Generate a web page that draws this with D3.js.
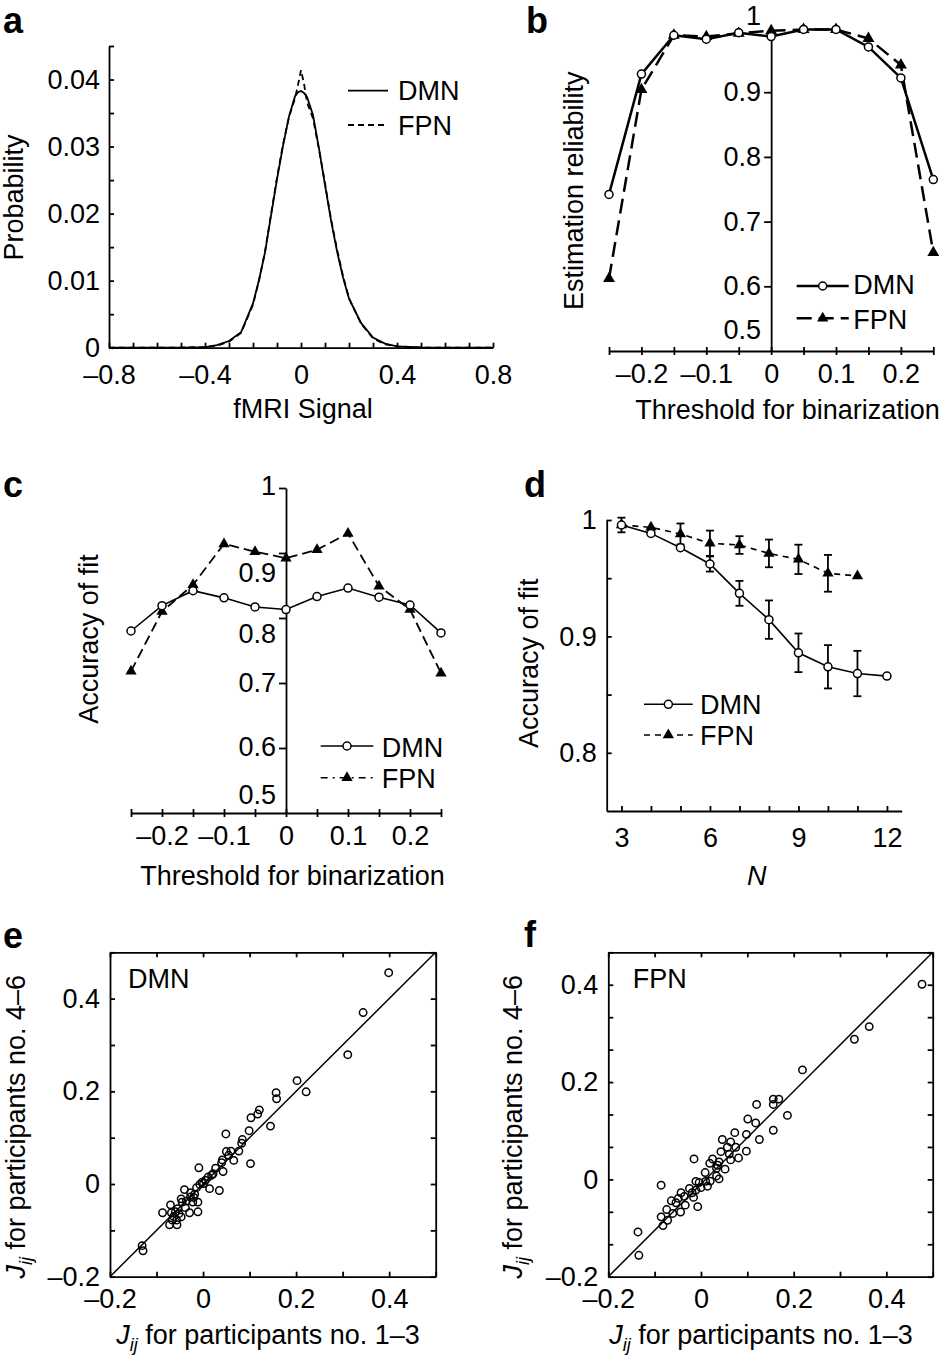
<!DOCTYPE html>
<html>
<head>
<meta charset="utf-8">
<script src="https://cdn.jsdelivr.net/npm/d3@7"></script>
<style>
	html, body { margin: 0; padding: 0; background: #fff; }
	svg text { font-family: "Liberation Sans", Arial, Helvetica, sans-serif; font-size: 27px; fill: #000; }
	.letter { font-weight: bold; font-size: 36px; }
</style>
</head>
<body>
<script>
// ---- panel a : signal distributions ----
var aX = [-0.8, -0.6, -0.5, -0.4, -0.35, -0.3, -0.25, -0.2, -0.175, -0.15, -0.125, -0.1, -0.075, -0.05, -0.025, -0.0125, 0,
	0.0125, 0.025, 0.05, 0.075, 0.1, 0.125, 0.15, 0.175, 0.2, 0.25, 0.3, 0.35, 0.4, 0.5, 0.6, 0.8];
var aDMN = [0, 0, 0.00002, 0.0001, 0.0004, 0.0010, 0.0023, 0.0066, 0.0101, 0.0142, 0.0197, 0.0251, 0.0301, 0.0345, 0.0375, 0.0381, 0.0383,
	0.0380, 0.0374, 0.0347, 0.0297, 0.0243, 0.0190, 0.0144, 0.0105, 0.0073, 0.0037, 0.0015, 0.0006, 0.0002, 0.00003, 0, 0];
var aFPN = [0, 0, 0.00002, 0.0001, 0.0003, 0.0009, 0.0022, 0.0064, 0.0100, 0.0143, 0.0199, 0.0254, 0.0303, 0.0344, 0.0372, 0.0392, 0.0414,
	0.0394, 0.0366, 0.0342, 0.0296, 0.0245, 0.0192, 0.0147, 0.0107, 0.0074, 0.0036, 0.0014, 0.0005, 0.0002, 0.00002, 0, 0];
var aXLabels = [-0.8, -0.4, 0, 0.4, 0.8];
var aYLabels = [0, 0.01, 0.02, 0.03, 0.04];

// ---- panels b, c : threshold sweeps ----
var thr = [-0.25, -0.2, -0.15, -0.1, -0.05, 0, 0.05, 0.1, 0.15, 0.2, 0.25];
var bDMN = [0.742, 0.928, 0.988, 0.982, 0.992, 0.986, 0.997, 0.997, 0.970, 0.922, 0.765];
var bFPN = [0.612, 0.904, 0.988, 0.986, 0.991, 0.995, 0.997, 0.997, 0.983, 0.942, 0.652];
var cDMN = [0.780, 0.819, 0.842, 0.831, 0.817, 0.813, 0.833, 0.846, 0.832, 0.820, 0.777];
var cFPN = [0.718, 0.810, 0.851, 0.914, 0.902, 0.892, 0.905, 0.930, 0.849, 0.813, 0.715];
var thrLabels = [-0.2, -0.1, 0, 0.1, 0.2];
var accLabels = [0.5, 0.6, 0.7, 0.8, 0.9, 1];

// ---- panel d : accuracy vs N ----
var dN = [3, 4, 5, 6, 7, 8, 9, 10, 11, 12];
var dDMN = [0.9957, 0.9885, 0.9762, 0.9622, 0.937, 0.9144, 0.8859, 0.8739, 0.8681, 0.8659];
var dDMNErr = [0.0063, 0, 0, 0.0065, 0.0107, 0.0165, 0.0166, 0.0186, 0.0195, 0];
var dNF = [3, 4, 5, 6, 7, 8, 9, 10, 11];
var dFPN = [0.9957, 0.9937, 0.988, 0.980, 0.9785, 0.9713, 0.9662, 0.9542, 0.9519];
var dFPNErr = [0, 0, 0.009, 0.0109, 0.0076, 0.0119, 0.0126, 0.0158, 0];
var dXLabels = [3, 6, 9, 12];
var dYLabels = [0.8, 0.9, 1];

// ---- panels e, f : Jij scatter ----
var eX = [0.399, 0.344, 0.311, 0.202, 0.2215, 0.157, 0.158, 0.121, 0.1175, 0.103, 0.145, 0.099, 0.049, 0.0845, 0.083, 0.050,
	0.060, 0.077, 0.055, 0.066, 0.0415, 0.040, 0.102, -0.009, 0.027, 0.043, 0.0215, 0.011, 0.005, -0.002, -0.007, 0.014,
	0.035, -0.040, -0.027, -0.018, -0.027, -0.047, -0.036, -0.022, -0.011, -0.045, -0.070, -0.038, -0.011, -0.029, -0.087,
	-0.068, -0.0595, -0.0545, -0.063, -0.047, -0.057, -0.072, -0.056, -0.131, -0.129, -0.066, -0.020, -0.052, 0.001, 0.0185, -0.014];
var eY = [0.456, 0.370, 0.279, 0.223, 0.199, 0.197, 0.184, 0.160, 0.151, 0.143, 0.125, 0.115, 0.108, 0.096, 0.088, 0.070,
	0.071, 0.071, 0.062, 0.051, 0.052, 0.046, 0.044, 0.035, 0.034, 0.027, 0.022, 0.015, 0.008, 0.004, -0.001, -0.010,
	-0.014, -0.012, -0.019, -0.022, -0.028, -0.032, -0.037, -0.039, -0.039, -0.039, -0.045, -0.051, -0.060, -0.062, -0.062,
	-0.062, -0.060, -0.053, -0.070, -0.071, -0.078, -0.088, -0.088, -0.133, -0.144, -0.078, -0.029, -0.064, 0.001, 0.019, -0.008];
var fX = [0.477, 0.363, 0.331, 0.219, 0.156, 0.168, 0.156, 0.120, 0.1865, 0.101, 0.118, 0.156, 0.073, 0.098, 0.046, 0.126,
	0.064, 0.057, 0.075, 0.043, 0.098, 0.061, 0.081, -0.015, 0.025, 0.064, 0.019, 0.039, 0.036, 0.0335, 0.052, 0.009,
	0.0335, 0.039, 0.020, 0.010, -0.086, -0.011, 0, -0.025, -0.011, -0.043, -0.019, -0.016, -0.036, -0.049, -0.064,
	-0.054, -0.034, -0.007, -0.074, -0.061, -0.044, -0.086, -0.072, -0.082, -0.136, -0.134, -0.004, 0.014];
var fY = [0.401, 0.314, 0.288, 0.225, 0.165, 0.165, 0.154, 0.154, 0.1315, 0.124, 0.116, 0.101, 0.096, 0.0925, 0.082, 0.082,
	0.077, 0.066, 0.066, 0.057, 0.058, 0.052, 0.044, 0.042, 0.042, 0.040, 0.033, 0.036, 0.029, 0.023, 0.021, 0.014,
	0.007, 0.001, -0.0035, -0.004, -0.012, -0.004, -0.017, -0.0185, -0.022, -0.0275, -0.0275, -0.037, -0.035, -0.039, -0.044,
	-0.048, -0.053, -0.056, -0.062, -0.070, -0.067, -0.077, -0.084, -0.095, -0.108, -0.156, -0.0065, -0.014];
var jLabels = [-0.2, 0, 0.2, 0.4];

var svg = d3.select("body").append("svg")
	.attr("width", 946)
	.attr("height", 1361);

function fmt(v) {
	if (Math.abs(v) < 1e-9) return "0";
	return (v < 0 ? "\u2013" : "") + d3.format("~g")(+Math.abs(v).toFixed(4));
}
function labelIf(list) {
	return function(v) { return list.some(function(u) { return Math.abs(u - v) < 1e-6; }) ? fmt(v) : ""; };
}
function styleAxis(g) {
	g.attr("font-size", null).attr("font-family", null);
	g.selectAll(".tick text").attr("fill", "#000");
	g.selectAll("line, path").attr("stroke", "#000").attr("stroke-width", 1.8);
}
function addAxis(axis, tx, ty) {
	return svg.append("g").attr("transform", "translate(" + tx + "," + ty + ")").call(axis).call(styleAxis);
}
function plotLine(xs, ys, sx, sy, width, dash) {
	svg.append("path")
		.datum(d3.zip(xs, ys))
		.attr("d", d3.line().x(function(d) { return sx(d[0]); }).y(function(d) { return sy(d[1]); }))
		.attr("fill", "none")
		.attr("stroke", "#000")
		.attr("stroke-width", width)
		.attr("stroke-dasharray", dash);
}
function circles(xs, ys, sx, sy) {
	svg.append("g").selectAll("circle").data(d3.zip(xs, ys)).join("circle")
		.attr("cx", function(d) { return sx(d[0]); })
		.attr("cy", function(d) { return sy(d[1]); })
		.attr("r", 4)
		.attr("fill", "#fff").attr("stroke", "#000").attr("stroke-width", 1.5);
}
function triangles(xs, ys, sx, sy, size) {
	svg.append("g").selectAll("path").data(d3.zip(xs, ys)).join("path")
		.attr("d", d3.symbol(d3.symbolTriangle, size))
		.attr("transform", function(d) { return "translate(" + sx(d[0]) + "," + sy(d[1]) + ")"; })
		.attr("fill", "#000");
}
function legendRow(x1, x2, y, width, dash, marker, label, textX, baseline) {
	svg.append("line").attr("x1", x1).attr("x2", x2).attr("y1", y).attr("y2", y)
		.attr("stroke", "#000").attr("stroke-width", width).attr("stroke-dasharray", dash);
	var mx = (x1 + x2) / 2;
	if (marker === "circle") {
		svg.append("circle").attr("cx", mx).attr("cy", y).attr("r", 4)
			.attr("fill", "#fff").attr("stroke", "#000").attr("stroke-width", 1.5);
	} else if (marker === "triangle") {
		svg.append("path").attr("d", d3.symbol(d3.symbolTriangle, 55))
			.attr("transform", "translate(" + mx + "," + y + ")");
	}
	svg.append("text").attr("x", textX).attr("y", baseline).text(label);
}
function yTitle(x, y, label) {
	return svg.append("text").attr("transform", "translate(" + x + "," + y + ") rotate(-90)")
		.attr("text-anchor", "middle").text(label);
}
function xTitle(x, y, label) {
	return svg.append("text").attr("x", x).attr("y", y).attr("text-anchor", "middle").text(label);
}
function jTitle(t, range) {
	t.text(null);
	t.append("tspan").attr("font-style", "italic").text("J");
	t.append("tspan").attr("font-style", "italic").style("font-size", "18px").attr("dy", 7).text("ij");
	t.append("tspan").attr("dy", -7).text(" for participants no. " + range);
}
function letter(x, y, s) {
	svg.append("text").attr("class", "letter").attr("x", x).attr("y", y).text(s);
}

//////// PANEL A ////////
var xA = d3.scaleLinear().domain([-0.8, 0.8]).range([109, 493]);
var yA = d3.scaleLinear().domain([0, 0.045]).range([347.7, 46]);
addAxis(d3.axisBottom(xA).tickValues(d3.range(-8, 9).map(function(i) { return i / 10; }))
	.tickSize(-5).tickSizeOuter(0).tickPadding(17).tickFormat(labelIf(aXLabels)), 0, 347.7);
addAxis(d3.axisLeft(yA).tickValues(d3.range(0, 10).map(function(i) { return i * 0.005; }))
	.tickSize(-5).tickSizeOuter(0).tickPadding(9).tickFormat(labelIf(aYLabels)), 109, 0);
plotLine(aX, aFPN, xA, yA, 1.8, "6,4");
plotLine(aX, aDMN, xA, yA, 1.8, null);
legendRow(348, 388, 90.7, 1.8, null, null, "DMN", 398, 100);
legendRow(348, 388, 125, 1.8, "6,4", null, "FPN", 398, 135);
yTitle(23, 197.5, "Probability");
xTitle(303, 418, "fMRI Signal");

//////// PANEL B ////////
var xB = d3.scaleLinear().domain([-0.25, 0.25]).range([609, 933.3]);
var yB = d3.scaleLinear().domain([0.5, 1]).range([351, 27.5]);
var gbx = addAxis(d3.axisBottom(xB).tickValues(d3.range(-5, 6).map(function(i) { return i * 0.05; }))
	.tickSize(4).tickSizeOuter(0).tickPadding(9).tickFormat(labelIf(thrLabels)), 0, yB(0.5));
gbx.selectAll(".tick line").attr("y1", -4);
var gby = addAxis(d3.axisLeft(yB).tickValues(accLabels).tickSize(7).tickSizeOuter(0).tickPadding(3).tickFormat(fmt), xB(0), 0);
gby.selectAll(".tick").each(function(d) {
	var t = d3.select(this);
	if (d === 1 || d === 0.5) t.select("line").remove();
	if (d === 1) t.select("text").attr("y", -12);
	if (d === 0.5) t.select("text").attr("y", -21);
});
plotLine(thr, bFPN, xB, yB, 2.5, "15,7");
plotLine(thr, bDMN, xB, yB, 2.5, null);
triangles(thr, bFPN, xB, yB, 62);
circles(thr, bDMN, xB, yB);
legendRow(796.7, 848.7, 286, 2.5, null, "circle", "DMN", 853.3, 293.5);
legendRow(796.7, 848.7, 318.3, 2.5, "15,7", "triangle", "FPN", 853.3, 328.5);
yTitle(583, 190.7, "Estimation reliability");
xTitle(787.5, 419, "Threshold for binarization");

//////// PANEL C ////////
var xC = d3.scaleLinear().domain([-0.25, 0.25]).range([131, 441]);
var yC = d3.scaleLinear().domain([0.5, 1]).range([813, 488]);
var gcx = addAxis(d3.axisBottom(xC).tickValues(d3.range(-5, 6).map(function(i) { return i * 0.05; }))
	.tickSize(4).tickSizeOuter(0).tickPadding(9).tickFormat(labelIf(thrLabels)), 0, yC(0.5));
gcx.selectAll(".tick line").attr("y1", -4);
var gcy = addAxis(d3.axisLeft(yC).tickValues(accLabels).tickSize(7).tickSizeOuter(0).tickPadding(3).tickFormat(fmt), xC(0), 0);
var cShift = { "1": -2, "0.9": 20, "0.8": 16, "0.7": 0, "0.6": -1, "0.5": -18 };
gcy.selectAll(".tick").each(function(d) {
	var t = d3.select(this);
	if (d === 0.5) t.select("line").remove();
	t.select("text").attr("y", cShift[String(d)]);
});
plotLine(thr, cFPN, xC, yC, 1.8, "10,5");
plotLine(thr, cDMN, xC, yC, 1.6, null);
triangles(thr, cFPN, xC, yC, 55);
circles(thr, cDMN, xC, yC);
legendRow(320.7, 373.3, 746, 1.6, null, "circle", "DMN", 381.7, 756.7);
legendRow(320.7, 373.3, 777.7, 1.6, "7,5,2,5", "triangle", "FPN", 381.7, 788.3);
yTitle(98, 639, "Accuracy of fit");
xTitle(292.5, 885, "Threshold for binarization");

//////// PANEL D ////////
var xD = d3.scaleLinear().domain([2.5, 12.5]).range([606.7, 901.7]);
var yD = d3.scaleLinear().domain([0.75, 1]).range([811, 520]);
addAxis(d3.axisBottom(xD).tickValues(d3.range(3, 13))
	.tickSize(-5).tickSizeOuter(0).tickPadding(16.5).tickFormat(labelIf(dXLabels)), 0, 811);
addAxis(d3.axisLeft(yD).tickValues([0.8, 0.85, 0.9, 0.95, 1])
	.tickSize(-5).tickSizeOuter(0).tickPadding(10).tickFormat(labelIf(dYLabels)), 606.7, 0);

function errorBars(xs, ys, es) {
	var g = svg.append("g").attr("stroke", "#000").attr("stroke-width", 1.8);
	xs.forEach(function(x, i) {
		if (!es[i]) return;
		var cx = xD(x), y1 = yD(ys[i] - es[i]), y2 = yD(ys[i] + es[i]);
		g.append("line").attr("x1", cx).attr("x2", cx).attr("y1", y1).attr("y2", y2);
		g.append("line").attr("x1", cx - 4).attr("x2", cx + 4).attr("y1", y1).attr("y2", y1);
		g.append("line").attr("x1", cx - 4).attr("x2", cx + 4).attr("y1", y2).attr("y2", y2);
	});
}
errorBars(dNF, dFPN, dFPNErr);
errorBars(dN, dDMN, dDMNErr);
plotLine(dNF, dFPN, xD, yD, 1.6, "6,5");
plotLine(dN, dDMN, xD, yD, 1.6, null);
triangles(dNF, dFPN, xD, yD, 55);
circles(dN, dDMN, xD, yD);
legendRow(644, 692.7, 704.3, 1.6, null, "circle", "DMN", 700, 713.5);
legendRow(644, 692.7, 735, 1.6, "6,5", "triangle", "FPN", 700, 745);
yTitle(538, 663.3, "Accuracy of fit");
xTitle(756.7, 885, "N").attr("font-style", "italic");

//////// PANELS E, F ////////
function scatterPanel(sx, sy, yTicks, xs, ys, name, nameX) {
	var x0 = sx.range()[0], x1 = sx.range()[1], y0 = sy.range()[0], y1 = sy.range()[1];
	var xTicks = d3.range(-2, 6).map(function(i) { return i / 10; });
	var none = function() { return ""; };
	addAxis(d3.axisBottom(sx).tickValues(xTicks).tickSize(-5).tickSizeOuter(0).tickPadding(12.6).tickFormat(labelIf(jLabels)), 0, y0);
	addAxis(d3.axisTop(sx).tickValues(xTicks).tickSize(-5).tickSizeOuter(0).tickFormat(none), 0, y1);
	addAxis(d3.axisLeft(sy).tickValues(yTicks).tickSize(-5).tickSizeOuter(0).tickPadding(10).tickFormat(labelIf(jLabels)), x0, 0);
	addAxis(d3.axisRight(sy).tickValues(yTicks).tickSize(-5).tickSizeOuter(0).tickFormat(none), x1, 0);
	svg.append("line")
		.attr("x1", sx(sx.domain()[0])).attr("y1", sy(sy.domain()[0]))
		.attr("x2", sx(sx.domain()[1])).attr("y2", sy(sy.domain()[1]))
		.attr("stroke", "#000").attr("stroke-width", 1.5);
	svg.append("g").selectAll("circle").data(d3.zip(xs, ys)).join("circle")
		.attr("cx", function(d) { return sx(d[0]); })
		.attr("cy", function(d) { return sy(d[1]); })
		.attr("r", 3.7)
		.attr("fill", "none").attr("stroke", "#000").attr("stroke-width", 1.5);
	svg.append("text").attr("x", nameX).attr("y", 988.3).text(name);
}

var xE = d3.scaleLinear().domain([-0.2, 0.5]).range([110, 435.7]);
var yE = d3.scaleLinear().domain([-0.2, 0.5]).range([1276.7, 952.3]);
scatterPanel(xE, yE, d3.range(-2, 6).map(function(i) { return i / 10; }), eX, eY, "DMN", 128);
jTitle(yTitle(24.5, 1126.7, ""), "4\u20136");
jTitle(xTitle(268, 1344, ""), "1\u20133");

var xF = d3.scaleLinear().domain([-0.2, 0.5]).range([608.3, 932.7]);
var yF = d3.scaleLinear().domain([-0.2, 0.2 + 4 / 15]).range([1276.7, 952.3]);
scatterPanel(xF, yF, d3.range(0, 11).map(function(i) { return -0.2 + i / 15; }), fX, fY, "FPN", 632.7);
jTitle(yTitle(522, 1126.7, ""), "4\u20136");
jTitle(xTitle(761, 1344, ""), "1\u20133");

//////// PANEL LETTERS ////////
letter(3, 33, "a");
letter(526, 33, "b");
letter(3, 497, "c");
letter(524, 497, "d");
letter(3, 948, "e");
letter(524, 947, "f");
</script>
</body>
</html>
